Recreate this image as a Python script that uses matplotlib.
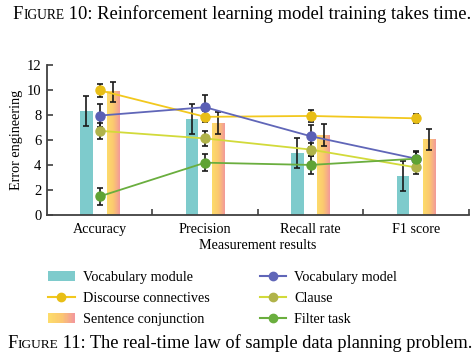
import numpy as np
import matplotlib.pyplot as plt
from matplotlib.colors import LinearSegmentedColormap
from matplotlib.legend_handler import HandlerBase
from matplotlib.patches import Rectangle, Patch
from matplotlib.lines import Line2D
from matplotlib.offsetbox import TextArea, HPacker, AnchoredOffsetbox

plt.rcParams['font.family'] = ['Liberation Serif', 'DejaVu Serif']

categories = ['Accuracy', 'Precision', 'Recall rate', 'F1 score']

# barras
vocab_module = [8.3, 7.65, 4.95, 3.15]
vocab_module_err = [1.2, 1.2, 1.2, 1.2]
sentence_conj = [9.85, 7.35, 6.4, 6.05]
sentence_conj_err = [0.8, 0.9, 0.85, 0.85]

# linhas
discourse = [9.97, 7.85, 7.92, 7.73]
discourse_err = [0.5, 0.45, 0.45, 0.35]
vocab_model = [7.95, 8.62, 6.3, 4.5]
vocab_model_err = [0.9, 0.95, 0.9, 0.5]
clause = [6.73, 6.12, 5.23, 3.8]
clause_err = [0.65, 0.6, 0.55, 0.5]
filter_task = [1.48, 4.18, 4.0, 4.5]
filter_task_err = [0.7, 0.7, 0.75, 0.6]

teal = '#7ECBCC'
grad_cmap = LinearSegmentedColormap.from_list('yp', ['#FDDC6A', '#FBC870', '#F39A9A'])


class HandlerGradient(HandlerBase):
    def create_artists(self, legend, orig_handle, xdescent, ydescent, width, height, fontsize, trans):
        n = 20
        arts = []
        for i in range(n):
            r = Rectangle((xdescent + width * i / n, ydescent), width / n + 0.3, height,
                          facecolor=grad_cmap(i / (n - 1)), edgecolor='none', transform=trans)
            arts.append(r)
        return arts


fig = plt.figure(figsize=(4.74, 3.57), dpi=100)
ax = fig.add_axes([0.099, 0.398, 0.890, 0.420])

x = np.arange(len(categories)) + 0.5
w = 0.12
off = 0.125
ekw = dict(ecolor='#1a1a1a', elinewidth=1.2, capsize=2.2, capthick=1.2)

ax.bar(x - off, vocab_module, w, color=teal, yerr=vocab_module_err, error_kw=ekw, zorder=2)
bars = ax.bar(x + off, sentence_conj, w, color='none', yerr=sentence_conj_err, error_kw=ekw, zorder=2)
grad = np.linspace(0, 1, 64).reshape(1, -1)
for b in bars:
    ax.imshow(grad, cmap=grad_cmap, aspect='auto', zorder=1.5,
              extent=[b.get_x(), b.get_x() + b.get_width(), 0, b.get_height()])

series = [
    (discourse, discourse_err, '#F2C81E', '#E8BE16'),
    (vocab_model, vocab_model_err, '#6066B8', '#5A5FB5'),
    (clause, clause_err, '#D2DA3A', '#B0B34A'),
    (filter_task, filter_task_err, '#6AAE3E', '#5FA334'),
]
for vals, err, lc, mc in series:
    ax.plot(x, vals, color=lc, lw=1.3, zorder=3)
    ax.errorbar(x, vals, yerr=err, fmt='none', zorder=4, **ekw)
    ax.plot(x, vals, 'o', color=mc, ms=6.5, zorder=5)

ax.set_xlim(0, 4)
ax.set_ylim(0, 12)
ax.set_yticks(range(0, 13, 2))
ax.set_xticks(x)
ax.set_xticklabels(categories, fontsize=10.2)
ax.set_xticks([1, 2, 3, 4], minor=True)
ax.tick_params(axis='x', which='major', length=0, pad=6)
ax.tick_params(axis='x', which='minor', direction='in', length=4, width=1.2, color='#404040')
ax.tick_params(axis='y', direction='in', length=4, width=1.2, color='#404040', labelsize=10.5, pad=4)
for s in ['top', 'right']:
    ax.spines[s].set_visible(False)
for s in ['left', 'bottom']:
    ax.spines[s].set_color('#404040')
    ax.spines[s].set_linewidth(1.3)
ax.set_ylabel('Error engineering', fontsize=10.2, labelpad=3)
ax.set_xlabel('Measurement results', fontsize=10.2, labelpad=2)

grad_handle = Patch(facecolor='none')
handles = [
    Patch(facecolor=teal),
    Line2D([], [], color='#F2C81E', marker='o', mfc='#E8BE16', mec='#E8BE16', ms=6),
    grad_handle,
    Line2D([], [], color='#6066B8', marker='o', ms=6),
    Line2D([], [], color='#D2DA3A', marker='o', mfc='#B0B34A', mec='#B0B34A', ms=6),
    Line2D([], [], color='#6AAE3E', marker='o', ms=6),
]
labels = ['Vocabulary module', 'Discourse connectives', 'Sentence conjunction',
          'Vocabulary model', 'Clause', 'Filter task']
fig.legend(handles, labels, ncol=2, loc='upper left', bbox_to_anchor=(0.074, 0.278),
           frameon=False, fontsize=10.2, handlelength=1.9, handleheight=0.75,
           columnspacing=3.55, labelspacing=0.58, handletextpad=0.55,
           handler_map={grad_handle: HandlerGradient()})


def caption(num, text, x0, y, size):
    parts = [TextArea('F', textprops=dict(fontsize=size)),
             TextArea('IGURE', textprops=dict(fontsize=size * 0.73)),
             TextArea(' %s: %s' % (num, text), textprops=dict(fontsize=size))]
    box = HPacker(children=parts, align='baseline', pad=0, sep=0)
    ab = AnchoredOffsetbox(loc='center left', child=box, frameon=False,
                           bbox_to_anchor=(x0, y), bbox_transform=fig.transFigure, borderpad=0)
    fig.add_artist(ab)


caption('10', 'Reinforcement learning model training takes time.', 0.015, 0.962, 13.35)
caption('11', 'The real-time law of sample data planning problem.', 0.003, 0.040, 13.25)

fig.savefig('out.png', dpi=100)
